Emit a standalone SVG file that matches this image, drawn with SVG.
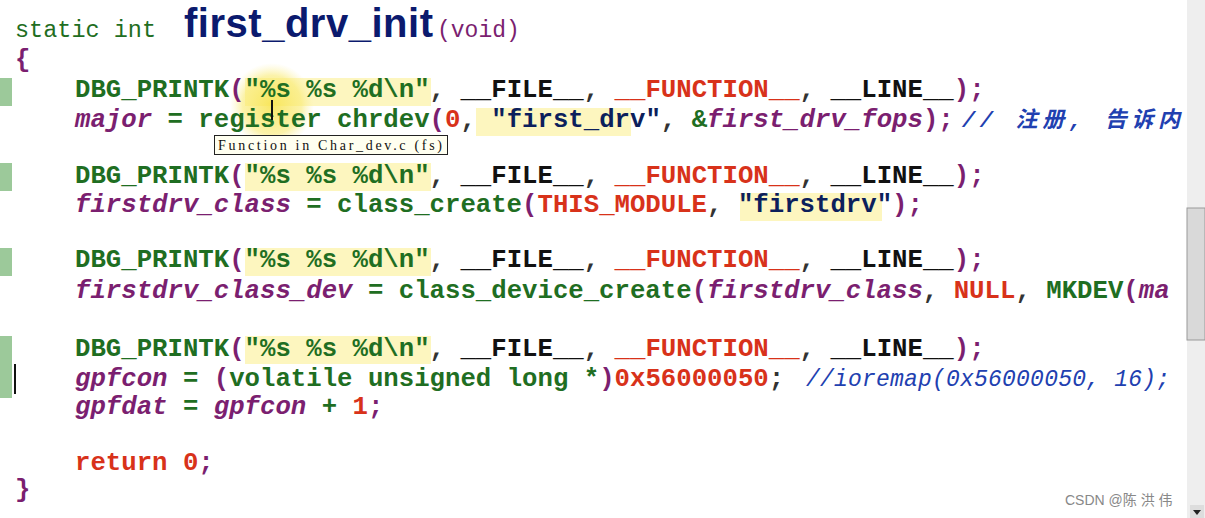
<svg xmlns="http://www.w3.org/2000/svg" width="1205" height="518" viewBox="0 0 1205 518">
<defs>
<radialGradient id="glow"><stop offset="0" stop-color="#f7e34a" stop-opacity="0.85"/><stop offset="0.7" stop-color="#f9ea70" stop-opacity="0.6"/><stop offset="1" stop-color="#fbf0a0" stop-opacity="0"/></radialGradient>
</defs>
<style>
.c{font-family:"Liberation Mono","DejaVu Sans Mono",monospace;font-weight:bold;font-size:25.7px;white-space:pre}
.g{fill:#1f6e22}.p{fill:#7b1f70;font-style:italic}.r{fill:#d8321a}.k{fill:#111}.n{fill:#0c1f5c}.b{fill:#2140b0;font-style:italic;font-weight:normal}.o{fill:#333}
.hl{fill:#fdf6bf}
.gut{fill:#9cc99a}
</style>
<rect width="1205" height="518" fill="#fff"/>
<g id="gutter">
<rect class="gut" x="0" y="78" width="12" height="28"/>
<rect class="gut" x="0" y="163" width="12" height="28"/>
<rect class="gut" x="0" y="248" width="12" height="28"/>
<rect class="gut" x="0" y="336" width="12" height="62"/>
<rect x="14" y="364" width="2" height="30" fill="#111"/>
</g>
<g id="scrollbar">
<rect x="1187" y="0" width="18" height="518" fill="#eeeeee"/>
<rect x="1187" y="208" width="18" height="132" fill="#d9d9d9" stroke="#999"/>
<rect x="1190" y="505" width="14" height="13" fill="#ddd"/>
<path d="M1193 510 L1201 510 L1197 515 Z" fill="#222"/>
</g>
<g id="highlights">
<rect class="hl" x="245" y="78" width="186" height="28"/>
<rect class="hl" x="476" y="108" width="155" height="28"/>
<rect class="hl" x="245" y="163" width="186" height="28"/>
<rect class="hl" x="740" y="193" width="142" height="28"/>
<rect class="hl" x="245" y="248" width="186" height="28"/>
<rect class="hl" x="245" y="336" width="186" height="28"/>
<circle cx="272" cy="105" r="42" fill="url(#glow)"/>
</g>
<g id="header">
<text x="15" y="37" class="c g" style="font-size:23.5px;font-weight:normal">static int </text>
<text x="184" y="37" style="font-family:'Liberation Sans',Arial,sans-serif;font-weight:bold;font-size:40px;fill:#0b1a6e" textLength="249">first_drv_init</text>
<text x="437" y="37" class="c p" style="font-size:23px;font-style:normal;font-weight:normal">(void)</text>
<text x="15" y="67" class="c p" style="font-style:normal">{</text>
</g>
<g id="code">
<text x="75" y="97" class="c"><tspan class="g">DBG_PRINTK</tspan><tspan class="p" style="font-style:normal">(</tspan><tspan class="g">"%s %s %d\n"</tspan><tspan class="o">, </tspan><tspan class="k">__FILE__</tspan><tspan class="o">, </tspan><tspan class="r">__FUNCTION__</tspan><tspan class="o">, </tspan><tspan class="k">__LINE__</tspan><tspan class="p" style="font-style:normal">);</tspan></text>
<text x="75" y="127" class="c"><tspan class="p">major</tspan><tspan class="g"> = register chrdev</tspan><tspan class="p" style="font-style:normal">(</tspan><tspan class="r">0</tspan><tspan class="o">, </tspan><tspan class="n">"first_drv"</tspan><tspan class="o">, </tspan><tspan class="g">&amp;</tspan><tspan class="p">first_drv_fops</tspan><tspan class="p" style="font-style:normal">);</tspan></text>
<text x="962" y="127" style="font-family:'Liberation Mono','Noto Sans CJK SC',monospace;font-style:italic;font-weight:bold;font-size:22px;fill:#2140b0;white-space:pre" textLength="218">// 注册, 告诉内</text>
<text x="75" y="183" class="c"><tspan class="g">DBG_PRINTK</tspan><tspan class="p" style="font-style:normal">(</tspan><tspan class="g">"%s %s %d\n"</tspan><tspan class="o">, </tspan><tspan class="k">__FILE__</tspan><tspan class="o">, </tspan><tspan class="r">__FUNCTION__</tspan><tspan class="o">, </tspan><tspan class="k">__LINE__</tspan><tspan class="p" style="font-style:normal">);</tspan></text>
<text x="75" y="212" class="c"><tspan class="p">firstdrv_class</tspan><tspan class="g"> = class_create</tspan><tspan class="p" style="font-style:normal">(</tspan><tspan class="r">THIS_MODULE</tspan><tspan class="o">, </tspan><tspan class="n">"firstdrv"</tspan><tspan class="p" style="font-style:normal">);</tspan></text>
<text x="75" y="267" class="c"><tspan class="g">DBG_PRINTK</tspan><tspan class="p" style="font-style:normal">(</tspan><tspan class="g">"%s %s %d\n"</tspan><tspan class="o">, </tspan><tspan class="k">__FILE__</tspan><tspan class="o">, </tspan><tspan class="r">__FUNCTION__</tspan><tspan class="o">, </tspan><tspan class="k">__LINE__</tspan><tspan class="p" style="font-style:normal">);</tspan></text>
<text x="75" y="298" class="c"><tspan class="p">firstdrv_class_dev</tspan><tspan class="g"> = class_device_create</tspan><tspan class="p" style="font-style:normal">(</tspan><tspan class="p">firstdrv_class</tspan><tspan class="o">, </tspan><tspan class="r">NULL</tspan><tspan class="o">, </tspan><tspan class="g">MKDEV</tspan><tspan class="p" style="font-style:normal">(</tspan><tspan class="p">ma</tspan></text>
<text x="75" y="356" class="c"><tspan class="g">DBG_PRINTK</tspan><tspan class="p" style="font-style:normal">(</tspan><tspan class="g">"%s %s %d\n"</tspan><tspan class="o">, </tspan><tspan class="k">__FILE__</tspan><tspan class="o">, </tspan><tspan class="r">__FUNCTION__</tspan><tspan class="o">, </tspan><tspan class="k">__LINE__</tspan><tspan class="p" style="font-style:normal">);</tspan></text>
<text x="75" y="386" class="c"><tspan class="p">gpfcon</tspan><tspan class="g"> = </tspan><tspan class="p" style="font-style:normal">(</tspan><tspan class="g">volatile unsigned long *</tspan><tspan class="p" style="font-style:normal">)</tspan><tspan class="r">0x56000050</tspan><tspan class="o">; </tspan></text>
<text x="806" y="386" style="font-family:'Liberation Mono',monospace;font-style:italic;font-size:23px;fill:#2140b0;white-space:pre" textLength="364">//ioremap(0x56000050, 16);</text>
<text x="75" y="414" class="c"><tspan class="p">gpfdat</tspan><tspan class="g"> = </tspan><tspan class="p">gpfcon</tspan><tspan class="g"> + </tspan><tspan class="r">1</tspan><tspan class="p" style="font-style:normal">;</tspan></text>
<text x="75" y="470" class="c"><tspan class="r">return 0</tspan><tspan class="p" style="font-style:normal">;</tspan></text>
<text x="15" y="497" class="c p" style="font-style:normal">}</text>
</g>
<g id="tooltip">
<rect x="214.5" y="135.5" width="233" height="19" fill="#fffff0" stroke="#222"/>
<text x="218" y="150" style="font-family:'Liberation Serif',serif;font-size:14px;fill:#111" textLength="224">Function in Char_dev.c (fs)</text>
<rect x="271" y="100" width="2" height="20" fill="#111"/>
</g>
<text x="1065" y="505" style="font-family:'Liberation Sans','Noto Sans CJK SC',sans-serif;font-size:14px;fill:#888">CSDN @陈 洪 伟</text>
</svg>
